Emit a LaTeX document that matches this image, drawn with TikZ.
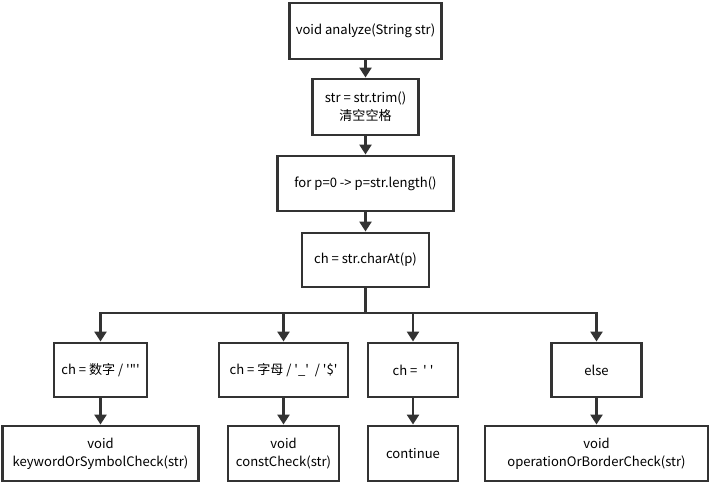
\documentclass[tikz,border=0pt]{standalone}
\usepackage{fontspec}
\usepackage{tikz}
\usetikzlibrary{arrows.meta}
\newfontfamily\cjkfont{Noto Sans CJK SC}

\begin{document}
\begin{tikzpicture}[x=0.75pt,y=-0.75pt,
		box/.style={draw=cline,line width=2.2pt,fill=white,align=center,inner sep=0pt,
			font=\cjkfont\fontsize{9.8}{13.5}\selectfont,text=ctext},
		arr/.style={draw=cline,line width=2.2pt,-{Triangle[width=9pt,length=7.5pt]}}]
			\definecolor{cline}{rgb}{0.2,0.2,0.2}
			\definecolor{ctext}{rgb}{0.0,0.0,0.0}
			\useasboundingbox (0,0) rectangle (710,483);
			%
			\node[box,minimum width=114pt,minimum height=42pt] (analyze) at (365.5,31) {void analyze(String str)};
			\node[box,minimum width=79.5pt,minimum height=42pt] (trim) at (365.5,107) {str = str.trim()\\清空空格};
			\node[box,minimum width=132pt,minimum height=41.25pt] (loop) at (365.5,183.5) {for p=0 -> p=str.length()};
			\node[box,minimum width=95.25pt,minimum height=40.5pt] (charat) at (365.5,260) {ch = str.charAt(p)};
			%
			\node[box,minimum width=69.75pt,minimum height=40.5pt] (digit) at (100.5,370) {ch = 数字 / '"'};
			\node[box,minimum width=96.75pt,minimum height=40.5pt] (letter) at (283.5,370) {ch = 字母 / '\_'~ / '\$'};
			\node[box,minimum width=67.5pt,minimum height=40.5pt] (space) at (413,370) {ch = ~' '};
			\node[box,minimum width=67.5pt,minimum height=40.5pt] (other) at (596.5,370) {else};
			%
			\node[box,minimum width=147pt,minimum height=41.25pt] (keyword) at (100.5,453.5) {void\\keywordOrSymbolCheck(str)};
			\node[box,minimum width=83.25pt,minimum height=41.25pt] (const) at (283.5,453.5) {void\\constCheck(str)};
			\node[box,minimum width=67.5pt,minimum height=41.25pt] (cont) at (413,453.5) {continue};
			\node[box,minimum width=167.25pt,minimum height=41.25pt] (operation) at (596.5,453.5) {void\\operationOrBorderCheck(str)};
			%
			\coordinate (split) at (365.5,313);
			\draw[arr] (analyze) -- (trim);
			\draw[arr] (trim) -- (loop);
			\draw[arr] (loop) -- (charat);
			\draw[draw=cline,line width=2.2pt] (charat) -- (split);
			\draw[arr] (split) -| (digit);
			\draw[arr] (split) -| (letter);
			\draw[arr] (split) -| (space);
			\draw[arr] (split) -| (other);
			\draw[arr] (digit) -- (keyword);
			\draw[arr] (letter) -- (const);
			\draw[arr] (space) -- (cont);
			\draw[arr] (other) -- (operation);
			%
\end{tikzpicture}
\end{document}
